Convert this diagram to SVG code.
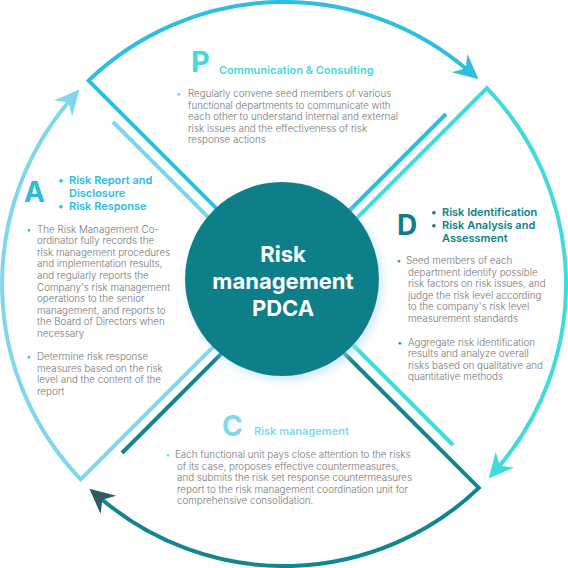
<svg xmlns="http://www.w3.org/2000/svg" width="568" height="568" viewBox="0 0 568 568">
<style>
.ln{fill:none;stroke-width:4;stroke-linejoin:miter;stroke-miterlimit:10}
.p{stroke:#2ebfe0}.d{stroke:#42dbdc}.c{stroke:#0f8690}.a{stroke:#7fd7eb}
.body{font-family:Inter,"Liberation Sans",sans-serif;font-size:9.8px;font-weight:300;fill:#767676}
.hd{font-family:Inter,"Liberation Sans",sans-serif;font-size:11px;font-weight:600}
.big{font-family:Inter,"Liberation Sans",sans-serif;font-size:28px;font-weight:700}
.ctr{font-family:Inter,"Liberation Sans",sans-serif;font-size:22px;font-weight:700;fill:#ffffff;text-anchor:middle}
</style>
<defs>
<marker id="mp" markerUnits="userSpaceOnUse" orient="auto" markerWidth="40" markerHeight="40" refX="0" refY="0" overflow="visible"><path d="M15,0 L-10,-12 L-2,0 L-10,12 Z" fill="#2ebfe0"/></marker>
<marker id="md" markerUnits="userSpaceOnUse" orient="auto" markerWidth="40" markerHeight="40" refX="0" refY="0" overflow="visible"><path d="M15,0 L-10,-12 L-2,0 L-10,12 Z" fill="#42dbdc"/></marker>
<marker id="mc" markerUnits="userSpaceOnUse" orient="auto" markerWidth="40" markerHeight="40" refX="0" refY="0" overflow="visible"><path d="M15,0 L-10,-12 L-2,0 L-10,12 Z" fill="#2f5b67"/></marker>
<marker id="ma" markerUnits="userSpaceOnUse" orient="auto" markerWidth="40" markerHeight="40" refX="0" refY="0" overflow="visible"><path d="M15,0 L-10,-12 L-2,0 L-10,12 Z" fill="#7fd7eb"/></marker>
<filter id="glow" x="-30%" y="-30%" width="160%" height="160%"><feDropShadow dx="3" dy="4" stdDeviation="5" flood-color="#a9d8f2" flood-opacity="0.6"/></filter>
</defs>
<rect width="568" height="568" fill="#ffffff"/>
<g id="connectors">
<path class="ln p" d="M260,252 L88.6,80.6 A282,282 0 0 1 467.2,69.6" marker-end="url(#mp)"/>
<path class="ln d" d="M310,265 L486.9,88.1 A282,282 0 0 1 498.4,467.2" marker-end="url(#md)"/>
<path class="ln c" d="M300,309 L478.85,487.85 A282,282 0 0 1 100.8,498.4" marker-end="url(#mc)"/>
<path class="ln a" d="M260,300 L80.7,479.3 A282,282 0 0 1 69.6,100.8" marker-end="url(#ma)"/>
<line class="ln a" x1="113" y1="122" x2="250" y2="259"/>
<line class="ln p" x1="446" y1="114" x2="310" y2="250"/>
<line class="ln d" x1="453" y1="445" x2="310" y2="302"/>
<line class="ln c" x1="122" y1="453" x2="260" y2="315"/>
</g>
<g id="center">
<circle cx="282" cy="279" r="97" fill="#0b7f88" filter="url(#glow)"/>
<text class="ctr" x="283" y="262">Risk</text>
<text class="ctr" x="283" y="289">management</text>
<text class="ctr" x="283" y="316">PDCA</text>
</g>
<g id="plan">
<text class="big" x="191" y="72" fill="#45d9dc" style="font-size:29px">P</text>
<text class="hd" x="219" y="73.5" fill="#45d9dc">Communication &amp; Consulting</text>
<text class="body" x="176" y="97" style="fill:#6fd3e6">•</text>
<text class="body" x="188" y="97">Regularly convene seed members of various</text>
<text class="body" x="188" y="108.6">functional departments to communicate with</text>
<text class="body" x="188" y="120.2">each other to understand internal and external</text>
<text class="body" x="188" y="131.8">risk issues and the effectiveness of risk</text>
<text class="body" x="188" y="143.4">response actions</text>
</g>
<g id="do">
<text class="big" x="397" y="235" fill="#0e7f88">D</text>
<text class="hd" x="431" y="215.5" fill="#0e7f88">•</text>
<text class="hd" x="442" y="215.5" fill="#0e7f88">Risk Identification</text>
<text class="hd" x="431" y="228.7" fill="#0e7f88">•</text>
<text class="hd" x="442" y="228.7" fill="#0e7f88">Risk Analysis and</text>
<text class="hd" x="442" y="241.9" fill="#0e7f88">Assessment</text>
<text class="body" x="396" y="264" style="fill:#2a8f96">•</text>
<text class="body" x="406" y="264">Seed members of each</text>
<text class="body" x="408" y="275.6">department identify possible</text>
<text class="body" x="408" y="287.2">risk factors on risk issues, and</text>
<text class="body" x="408" y="298.8">judge the risk level according</text>
<text class="body" x="408" y="310.4">to the company's risk level</text>
<text class="body" x="408" y="322">measurement standards</text>
<text class="body" x="397" y="345.6" style="fill:#2a8f96">•</text>
<text class="body" x="408" y="345.6">Aggregate risk identification</text>
<text class="body" x="408" y="357.2">results and analyze overall</text>
<text class="body" x="408" y="368.8">risks based on qualitative and</text>
<text class="body" x="408" y="380.4">quantitative methods</text>
</g>
<g id="check">
<text class="big" x="222" y="436" fill="#7fd8ec">C</text>
<text class="hd" x="254" y="434.5" fill="#7fd8ec">Risk management</text>
<text class="body" x="165" y="458" style="fill:#7fd8ec">•</text>
<text class="body" x="175" y="458">Each functional unit pays close attention to the risks</text>
<text class="body" x="177" y="469.6">of its case, proposes effective countermeasures,</text>
<text class="body" x="177" y="481.2">and submits the risk set response countermeasures</text>
<text class="body" x="177" y="492.8">report to the risk management coordination unit for</text>
<text class="body" x="177" y="504.4">comprehensive consolidation.</text>
</g>
<g id="act">
<text class="big" x="24" y="202" fill="#2bbde0">A</text>
<text class="hd" x="58" y="184" fill="#2bbde0">•</text>
<text class="hd" x="69" y="184" fill="#2bbde0">Risk Report and</text>
<text class="hd" x="69" y="197.2" fill="#2bbde0">Disclosure</text>
<text class="hd" x="58" y="210.4" fill="#2bbde0">•</text>
<text class="hd" x="69" y="210.4" fill="#2bbde0">Risk Response</text>
<text class="body" x="26" y="232.5" style="fill:#2bbde0">•</text>
<text class="body" x="37" y="232.5">The Risk Management Co-</text>
<text class="body" x="37" y="244.1">ordinator fully records the</text>
<text class="body" x="37" y="255.7">risk management procedures</text>
<text class="body" x="37" y="267.3">and implementation results,</text>
<text class="body" x="37" y="278.9">and regularly reports the</text>
<text class="body" x="37" y="290.5">Company's risk management</text>
<text class="body" x="37" y="302.1">operations to the senior</text>
<text class="body" x="37" y="313.7">management, and reports to</text>
<text class="body" x="37" y="325.3">the Board of Directors when</text>
<text class="body" x="37" y="336.9">necessary</text>
<text class="body" x="26" y="360.2" style="fill:#2bbde0">•</text>
<text class="body" x="37" y="360.2">Determine risk response</text>
<text class="body" x="37" y="371.8">measures based on the risk</text>
<text class="body" x="37" y="383.4">level and the content of the</text>
<text class="body" x="37" y="395">report</text>
</g>
</svg>
